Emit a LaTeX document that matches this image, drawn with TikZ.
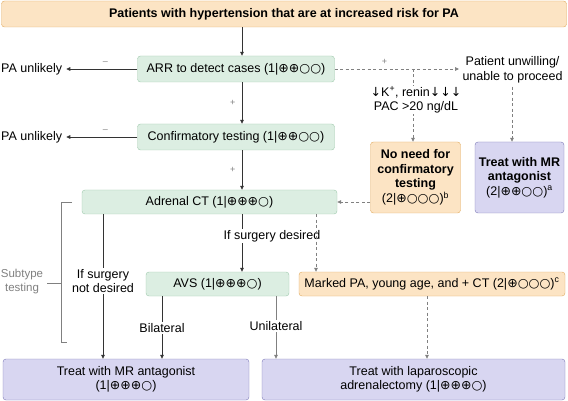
\documentclass[tikz,border=0pt]{standalone}
\usepackage{fontspec}
\setmainfont{Liberation Sans}
\newfontfamily\symfont[Scale=1.0]{DejaVu Sans}
\usepackage{tikz}
\usetikzlibrary{arrows.meta, positioning, calc}
\definecolor{testgreen}{HTML}{DCEEE2}
\definecolor{testgreenline}{HTML}{9EC8AB}
\definecolor{skiporange}{HTML}{FCE4C4}
\definecolor{skiporangeline}{HTML}{E0A95E}
\definecolor{treatpurple}{HTML}{D8D6F1}
\definecolor{treatpurpleline}{HTML}{7C78B6}
\definecolor{flowgray}{HTML}{333333}
\definecolor{softgray}{HTML}{808080}
\newcommand{\gp}{{\symfont ⊕}}
\newcommand{\gc}{{\symfont ○}}
\newcommand{\dn}{{\symfont ↓}}

\begin{document}
\begin{tikzpicture}[x=1pt, y=-1pt, font=\fontsize{12.5}{14.5}\selectfont,
    testbox/.style={draw=testgreenline, fill=testgreen, rounded corners=3pt, inner sep=0pt, minimum height=26pt, align=center},
    skipbox/.style={draw=skiporangeline, fill=skiporange, rounded corners=3pt, inner sep=0pt, align=center},
    treatbox/.style={draw=treatpurpleline, fill=treatpurple, rounded corners=3pt, inner sep=0pt, align=center},
    arr/.style={-{Triangle[length=4pt, width=3.6pt]}, flowgray, line width=0.7pt},
    dasharr/.style={arr, softgray, dash pattern=on 3pt off 2.5pt},
    lbl/.style={fill=white, inner sep=1pt, align=center},
    sign/.style={font=\fontsize{9}{10}\selectfont, text=softgray},
]
\useasboundingbox (0,0) rectangle (568,401);

% Top: who is screened
\node[skipbox, minimum width=565pt, minimum height=26pt, font=\fontsize{12.5}{14.5}\selectfont\bfseries] (risk) at (284,14) {Patients with hypertension that are at increased risk for PA};

% Case detection and confirmation
\node[testbox, minimum width=197pt] (arr) at (236,69) {ARR to detect cases (1|\gp\gp\gc\gc)};
\node[testbox, minimum width=197pt] (conf) at (236,137) {Confirmatory testing (1|\gp\gp\gc\gc)};
\node[testbox, minimum width=255pt, minimum height=24pt] (ct) at (209.5,202) {Adrenal CT (1|\gp\gp\gp\gc)};
\node[anchor=west, inner xsep=4pt, inner ysep=1pt] (unl1) at (-3,69) {PA unlikely};
\node[anchor=west, inner xsep=4pt, inner ysep=1pt] (unl2) at (-3,137) {PA unlikely};
\coordinate (mainx) at (242,0);

\draw[arr] (risk.south -| mainx) -- (arr.north -| mainx);
\draw[arr] (arr.south -| mainx) -- (conf.north -| mainx) node[midway, left=3pt, sign] {+};
\draw[arr] (conf.south -| mainx) -- (ct.north -| mainx) node[midway, left=3pt, sign] {+};
\draw[arr] (arr.west) -- (unl1.east) node[pos=0.45, above=1pt, sign] {--};
\draw[arr] (conf.west) -- (unl2.east) node[pos=0.45, above=1pt, sign] {--};

% Right: shortcuts
\node[anchor=west, align=center] (unwill) at (459,70) {Patient unwilling/\\unable to proceed};
\node[skipbox, minimum width=90pt, minimum height=71pt] (noneed) at (415.5,177.5) {\textbf{No need for}\\\textbf{confirmatory}\\\textbf{testing}\\(2|\gp\gc\gc\gc)\textsuperscript{b}};
\node[treatbox, minimum width=89pt, minimum height=71pt] (mrtop) at (519.5,177.5) {\textbf{Treat with MR}\\\textbf{antagonist}\\(2|\gp\gp\gc\gc)\textsuperscript{a}};
\coordinate (kx) at (413,0);
\coordinate (ux) at (512,0);

\draw[dasharr] (arr.east) -- (unwill.west |- arr.east) node[pos=0.4, above=1pt, sign] {+};
\draw[dasharr] (kx |- arr.east) -- (noneed.north -| kx);
\node[lbl] (crit) at (416,100) {\dn K\textsuperscript{+}, renin\dn\dn\dn\\PAC >20 ng/dL};
\draw[dasharr] (unwill.south -| ux) -- (mrtop.north -| ux);
\draw[dasharr] (noneed.west |- ct.east) -- (ct.east);

% Subtype testing
\node[testbox, minimum width=143pt, minimum height=24pt] (avs) at (217.5,284) {AVS (1|\gp\gp\gp\gc)};
\node[skipbox, minimum width=266pt, minimum height=24pt] (marked) at (432,284) {Marked PA, young age, and + CT (2|\gp\gc\gc\gc)\textsuperscript{c}};
\node[treatbox, minimum width=246pt, minimum height=41pt] (mrbot) at (126,379.5) {Treat with MR antagonist\\(1|\gp\gp\gp\gc)};
\node[treatbox, minimum width=303pt, minimum height=41pt] (lap) at (413.5,379.5) {Treat with laparoscopic\\adrenalectomy (1|\gp\gp\gp\gc)};
\coordinate (nx) at (103,0);
\coordinate (bx) at (162,0);
\coordinate (uux) at (276,0);
\coordinate (dx) at (316,0);
\coordinate (mx) at (427,0);

\draw[arr] (ct.south -| mainx) -- (avs.north -| mainx);
\node[lbl] (want) at (272,236) {If surgery desired};
\draw[dasharr] (ct.south -| dx) -- (marked.north -| dx);
\draw[arr] (ct.south -| nx) -- (mrbot.north -| nx);
\node[lbl] (nowant) at (103,281) {If surgery\\not desired};
\draw[arr] (avs.south -| bx) -- (mrbot.north -| bx);
\node[lbl] (bilat) at (162,328) {Bilateral};
\draw[arr, softgray] (avs.south -| uux) -- (lap.north -| uux);
\node[lbl] (unilat) at (276,326) {Unilateral};
\draw[dasharr] (marked.south -| mx) -- (lap.north -| mx);

% bracket
\node[align=center, text=softgray, inner sep=1pt, font=\fontsize{11.5}{14}\selectfont] (subtype) at (22,282) {Subtype\\testing};
\draw[softgray, line width=0.6pt] (72,202) -- (61,202) -- (61,342) -- (67,342);
\draw[softgray, line width=0.6pt] (subtype.east |- 0,283) ++(3,0) -- (61,283);

\end{tikzpicture}
\end{document}
